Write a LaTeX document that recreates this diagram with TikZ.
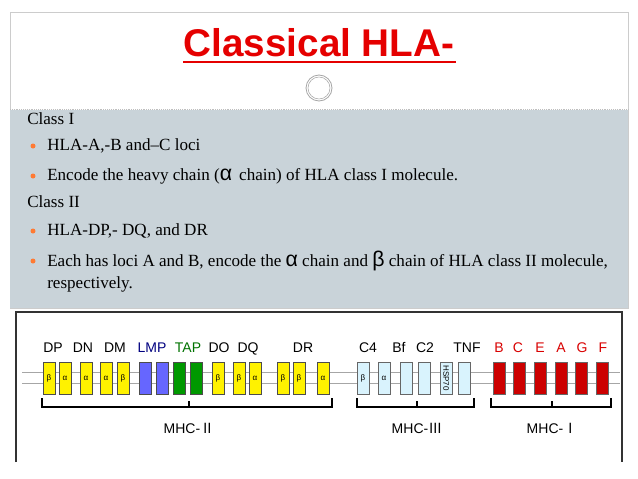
\documentclass[tikz,border=0pt]{standalone}
\usepackage{fontspec}
\setmainfont{Liberation Serif}
\setsansfont{Liberation Sans}
\newfontfamily\cjk{Noto Sans CJK SC}
\definecolor{panel}{HTML}{C9D3D9}
\begin{document}
\begin{tikzpicture}[x=0.75pt,y=-0.75pt,
  gene/.style={draw=black!70,line width=0.5pt,minimum width=9pt,minimum height=24pt,inner sep=0pt,font=\sffamily\fontsize{6}{6}\selectfont},
  yel/.style={gene,fill=yellow},
  lmp/.style={gene,fill=blue!60!white},
  tap/.style={gene,fill=green!60!black},
  lb/.style={gene,fill=cyan!15,draw=black!60},
  rd/.style={gene,fill=red!80!black,draw=black!60},
  lab/.style={font=\sffamily\fontsize{10.5}{10.5}\selectfont,anchor=base},
  bul/.style={font=\fontsize{12.8}{14}\selectfont,anchor=west,inner sep=0pt},
  brk/.style={line width=1pt}]
\useasboundingbox (0,0) rectangle (638,478);
\fill[white] (0,0) rectangle (638,478);
% slide
\draw[gray!40] (10,12) rectangle (628,308);
\fill[panel] (10,110) rectangle (628,308);
\draw[gray!50,densely dotted] (10,109) -- (628,109);
\fill[white] (319,90) circle (16);
\draw[gray!70,line width=0.6pt] (319,88) circle (13);
\draw[gray!70,line width=0.4pt] (319,88) circle (11);
\node[font=\sffamily\bfseries\fontsize{29}{29}\selectfont,text=red!90!black] (title) at (319,43) {Classical HLA-};
\draw[red!90!black,line width=2pt] (183,62) -- (456,62);
\node[bul] (c1) at (27,119) {Class I};
\node[bul] (b1) at (47,146) {HLA-A,-B and–C loci};
\node[bul] (b2) at (47,176) {Encode the heavy chain ({\sffamily\fontsize{16}{16}\selectfont α}\, chain) of HLA class I molecule.};
\node[bul] (c2) at (27,202) {Class II};
\node[bul] (b3) at (47,231) {HLA-DP,- DQ, and DR};
\node[bul] (b4) at (47,261) {Each has loci A and B, encode the {\sffamily\fontsize{16}{16}\selectfont α} chain and {\sffamily\fontsize{16}{16}\selectfont β} chain of HLA class II molecule,};
\node[bul] (b5) at (47,284) {respectively.};
\foreach \y in {146,176,231,261} \fill[orange!70!red!80] (33,\y) circle (2.5);
% diagram box
\draw[black!80,line width=0.8pt] (16,462) -- (16,312) -- (622,312) -- (622,462);
\draw[gray!70,line width=0.6pt] (22,372) -- (620,372) (22,383) -- (620,383);
% class II genes
\foreach \x/\t in {49/β,65/α,86/α,106/α,123/β,218/β,239/β,255/α,283/β,299/β,323/α}
  \node[yel] at (\x,378) {\t};
\foreach \x in {145,162} \node[lmp] at (\x,378) {};
\foreach \x in {179,196} \node[tap] at (\x,378) {};
\foreach \x/\t in {363/β,384/α,406/,424/,464/} \node[lb] at (\x,378) {\t};
\node[lb] (hsp) at (446,378) {\rotatebox{-90}{HSP70}};
\foreach \x in {499,519,540,561,581,602} \node[rd] at (\x,378) {};
% labels
\foreach \x/\t in {53/DP,83/DN,115/DM,219/DO,248/DQ,303/DR,368/C4,399/Bf,425/C2,467/TNF}
  \node[lab] at (\x,352) {\t};
\node[lab,text=blue!50!black] at (152,352) {LMP};
\node[lab,text=green!45!black] at (188,352) {TAP};
\foreach \x/\t in {499/B,518/C,540/E,561/A,582/G,603/F}
  \node[lab,text=red!85!black] at (\x,352) {\t};
% brackets
\foreach \a/\b/\m in {42/332/189,357/474/417,491/611/552}
  \draw[brk] (\a,398) -- (\a,407) -- (\b,407) -- (\b,398) (\m,407) -- (\m,401);
\node[lab] (m2) at (189,433) {MHC-{\cjk Ⅱ}};
\node[lab] (m3) at (417,433) {MHC-{\cjk Ⅲ}};
\node[lab] (m1) at (552,433) {MHC-{\cjk Ⅰ}};
\end{tikzpicture}
\end{document}
